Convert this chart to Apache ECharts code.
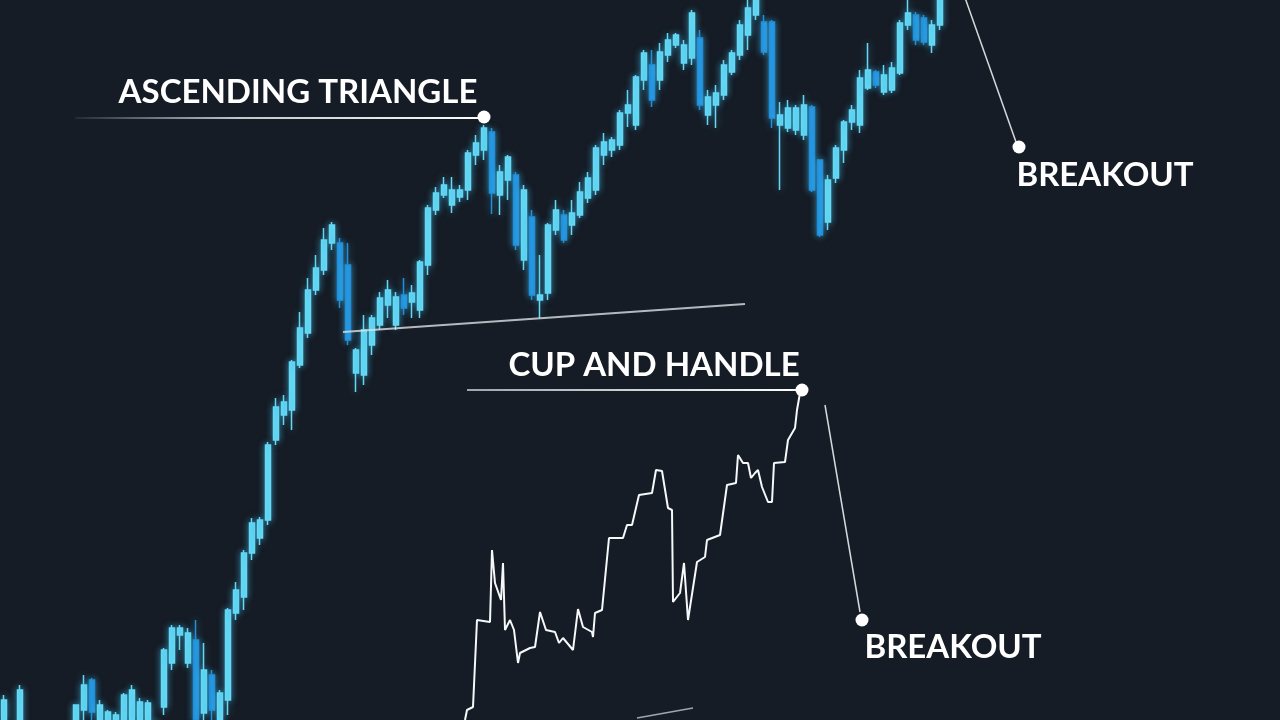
<!DOCTYPE html>
<html>
<head>
<meta charset="utf-8">
<script src="https://cdn.jsdelivr.net/npm/echarts@6/dist/echarts.min.js"></script>
<style>
html,body{margin:0;padding:0;background:#161c25;}
#chart{width:1280px;height:720px;}
</style>
</head>
<body>
<div id="chart"></div>
<script>
// ---- Candlestick prices (arbitrary units) ----
const opens  = [0,-30,-10,-20,-30,-20,-35,-25,-15,-5,10,40,0,-5,-10,-5,0,0,-5,-10,13,57,85,57,80,7,45,0,20,107,123,167,182,200,280,305,310,355,387,430,450,477,477,455,347,345,375,395,415,395,425,418,410,455,510,525,515,523,530,565,570,588,525,540,545,460,503,420,427,490,505,495,505,522,530,565,570,575,607,595,640,655,640,665,675,657,662,682,605,615,625,648,665,685,705,698,698,595,592,590,585,613,560,498,542,570,598,595,632,648,628,630,647,695,705,702,675,695];
const closes = [20,-10,30,-40,-15,-35,-25,-10,-30,15,35,8,15,8,5,25,30,18,17,-3,70,92,92,87,0,50,10,27,110,130,167,197,200,275,313,318,358,392,430,452,480,495,420,380,370,390,402,422,430,423,412,427,458,512,527,535,530,530,567,577,592,527,548,563,475,530,425,425,495,510,480,507,528,542,572,578,580,607,615,643,667,620,668,680,685,675,707,615,623,627,655,667,695,712,725,668,602,605,612,612,615,530,485,540,572,598,610,642,650,635,645,652,697,707,680,678,695,725];
const lows   = [-5,-40,-20,-50,-40,-45,-50,-35,-40,-10,0,0,-10,-10,-15,-10,-5,-5,-10,-15,5,50,70,52,-5,0,-5,-5,5,100,110,160,175,195,275,295,290,352,382,425,445,470,412,375,328,335,365,390,402,390,405,402,402,445,505,522,507,518,520,555,560,506,505,520,470,450,420,402,420,485,477,485,502,517,525,555,563,570,593,590,630,613,630,658,672,650,655,610,595,592,620,645,660,670,700,665,592,530,588,585,580,528,483,490,537,557,590,587,630,632,625,627,645,690,675,675,667,690];
const highs  = [25,-5,35,-10,-5,-10,-15,-5,-8,15,45,42,20,10,8,27,35,22,20,0,72,95,95,92,100,77,50,30,112,138,170,202,203,278,322,325,360,408,442,465,492,498,482,477,372,405,405,428,440,428,442,435,460,515,533,543,543,535,570,585,595,592,555,565,548,535,510,465,497,520,510,520,538,548,575,587,583,610,630,645,670,670,677,687,687,680,710,690,630,635,660,670,700,720,730,705,700,618,620,615,625,615,560,545,575,600,615,650,677,650,655,658,700,720,708,705,700,740];
const sessions = opens.map((_, i) => 'S' + (i + 1));

// ---- Cup and handle price line: [time, price] ----
const cupTimes  = [465,467,473,477,490,492,495,501,503,505,510,514,518,520,530,535,540,546,555,559,563,573,578,583,592,593,595,602,609,623,627,632,639,652,656,662,668,672,673,680,684,688,697,705,707,720,727,736,738,743,748,751,755,758,762,768,772,774,785,788,795,797,800];
const cupPrices = [0,10,13,100,98,170,137,120,157,90,100,90,57,67,72,73,108,90,88,77,82,70,111,93,88,83,107,110,182,182,195,195,225,227,250,249,212,210,118,127,157,100,158,163,180,185,235,237,265,257,257,242,247,250,233,218,218,257,258,280,292,310,327];

// ---- Annotation guide lines (time, price) ----
const resistanceLine = [[75, 602], [484, 602]];
const supportLine    = [[343, 388], [745, 416]];
const cupRimLine     = [[467, 330], [800, 330]];
const cupPointer     = [[825, 315], [860, 108]];
const topPointer     = [[963, 728], [1016, 578]];
const cupBaseLine    = [[637, 2], [693, 12]];
const dots = [[484, 603], [802, 330], [862, 100], [1019, 573]];
const labels = [
  {name: 'ASCENDING TRIANGLE', value: [298, 628]},
  {name: 'CUP AND HANDLE', value: [654, 355]},
  {name: 'BREAKOUT', value: [1105, 545]},
  {name: 'BREAKOUT', value: [953, 73]}
];

const chart = echarts.init(document.getElementById('chart'));
const candleData = opens.map((o, i) => [o, closes[i], lows[i], highs[i]]);

function guide(points, color, width) {
  return {
    type: 'line', xAxisIndex: 1, yAxisIndex: 1, data: points,
    symbol: 'none', silent: true, animation: false,
    lineStyle: {color: color, width: width}, z: 5
  };
}

chart.setOption({
  backgroundColor: '#161c25',
  animation: false,
  grid: [
    {left: 0, top: 0, width: 944, bottom: 0},
    {left: 0, top: 0, right: 0, bottom: 0}
  ],
  xAxis: [
    {type: 'category', data: sessions, gridIndex: 0, show: false, boundaryGap: true},
    {type: 'value', gridIndex: 1, min: 0, max: 1280, show: false}
  ],
  yAxis: [
    {type: 'value', gridIndex: 0, min: 0, max: 720, show: false},
    {type: 'value', gridIndex: 1, min: 0, max: 720, show: false}
  ],
  series: [
    {
      type: 'candlestick', xAxisIndex: 0, yAxisIndex: 0, data: candleData,
      barWidth: 5.5,
      itemStyle: {
        color: '#66d9f3', color0: '#2190dc',
        borderColor: '#66d9f3', borderColor0: '#2190dc', borderWidth: 1.5,
        shadowBlur: 7, shadowColor: 'rgba(70,190,240,0.6)'
      }
    },
    {
      type: 'line', xAxisIndex: 1, yAxisIndex: 1,
      data: cupTimes.map((t, i) => [t, cupPrices[i]]),
      symbol: 'none', lineStyle: {color: '#f6f8fa', width: 2}, z: 4
    },
    guide(resistanceLine, new echarts.graphic.LinearGradient(0, 0, 1, 0, [
      {offset: 0, color: 'rgba(255,255,255,0.05)'},
      {offset: 0.4, color: 'rgba(255,255,255,0.75)'},
      {offset: 1, color: 'rgba(255,255,255,1)'}
    ]), 2),
    guide(supportLine, 'rgba(220,225,230,0.8)', 2),
    guide(cupRimLine, new echarts.graphic.LinearGradient(0, 0, 1, 0, [
      {offset: 0, color: 'rgba(255,255,255,0.6)'},
      {offset: 1, color: 'rgba(255,255,255,1)'}
    ]), 2),
    guide(cupPointer, 'rgba(235,238,240,0.9)', 1.5),
    guide(topPointer, 'rgba(235,238,240,0.9)', 1.5),
    guide(cupBaseLine, 'rgba(220,225,230,0.7)', 1.5),
    {
      type: 'scatter', xAxisIndex: 1, yAxisIndex: 1, data: dots,
      symbolSize: 13, itemStyle: {color: '#ffffff', opacity: 1}, z: 6
    },
    {
      type: 'scatter', xAxisIndex: 1, yAxisIndex: 1, data: labels,
      symbolSize: 1, itemStyle: {color: '#161c25', opacity: 1}, z: 7,
      label: {
        show: true, position: 'inside', formatter: '{b}',
        fontFamily: 'Lato', fontWeight: 'bold', fontSize: 33,
        color: '#ffffff', opacity: 1
      }
    }
  ]
});
</script>
</body>
</html>
